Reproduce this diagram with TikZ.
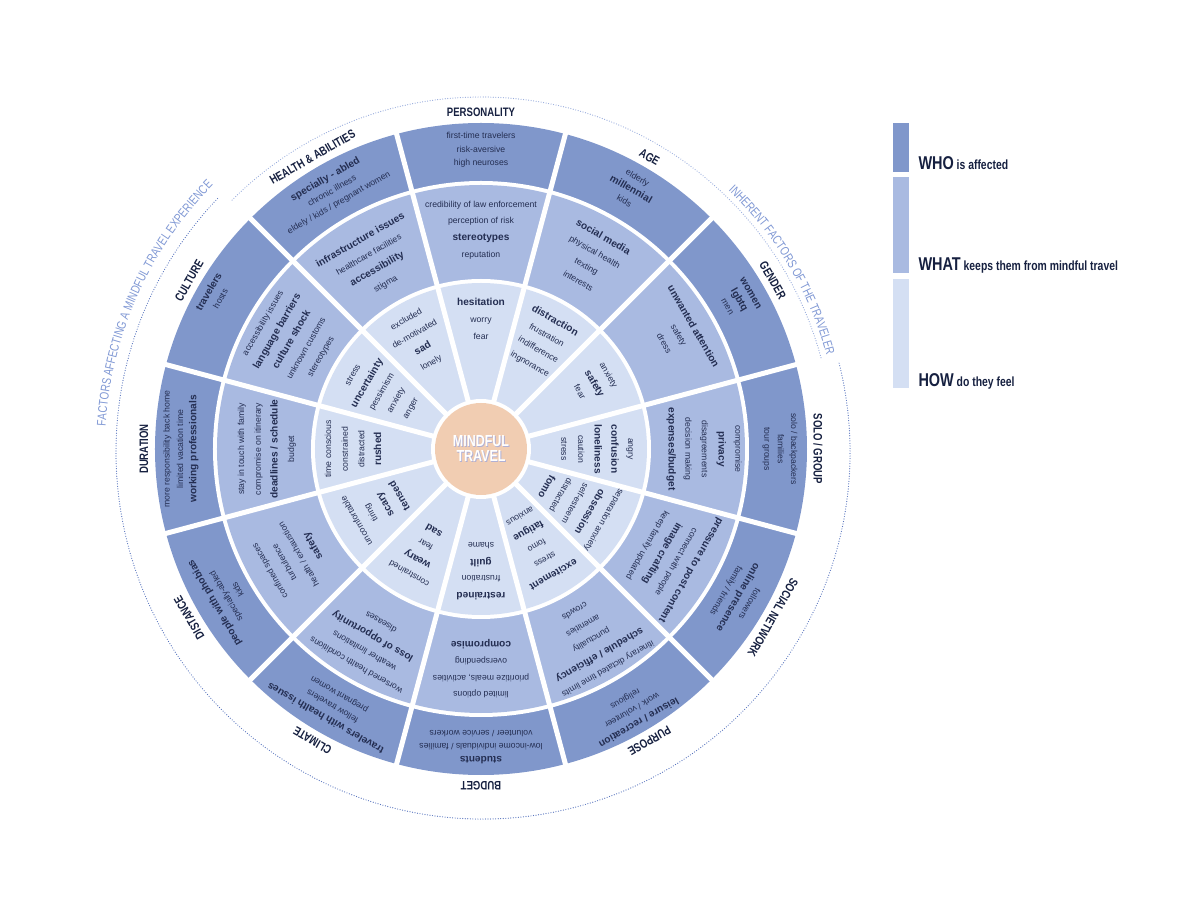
\documentclass[tikz,border=0pt]{standalone}
\usepackage{fontspec}
\setmainfont{Liberation Sans}
\newfontfamily\condfont[FakeStretch=0.78]{Liberation Sans}
\usetikzlibrary{decorations.text}

\definecolor{whocol}{RGB}{128,151,203}
\definecolor{whatcol}{RGB}{169,186,225}
\definecolor{howcol}{RGB}{212,223,243}
\definecolor{centrecol}{RGB}{241,205,178}
\definecolor{centreshade}{RGB}{176,176,212}
\definecolor{navytxt}{RGB}{36,46,82}
\definecolor{navylbl}{RGB}{22,32,64}
\definecolor{groupdot}{RGB}{150,170,220}
\definecolor{ringdot}{RGB}{88,116,190}
\definecolor{grouptxt}{RGB}{128,152,212}

\tikzset{every picture/.style={line width=0.75pt}}
\tikzset{
  seg/.style={text=navytxt, align=center, inner sep=0pt},
  whoseg/.style={seg, font=\fontsize{6.5}{10}\selectfont},
  whatseg/.style={seg, font=\fontsize{6.5}{12.5}\selectfont},
  howseg/.style={seg, font=\fontsize{6.5}{12.5}\selectfont},
  factorlabel/.style={text=navylbl, inner sep=0pt, font=\condfont\bfseries\fontsize{9.2}{11}\selectfont},
  gapline/.style={draw=white, line width=3.75pt},
  dotarc/.style={line width=0.9pt, line cap=round, dash pattern=on 0pt off 1.9pt},
  centre/.style={circle, fill=centrecol, minimum size=69pt, inner sep=0pt, align=center, text=white, font=\condfont\bfseries\fontsize{12}{11.25}\selectfont},
  legendtxt/.style={text=navylbl, inner sep=0pt, anchor=base west, font=\condfont\bfseries\fontsize{10}{12}\selectfont},
}
\newcommand{\keyterm}[1]{{\fontsize{7.6}{10}\selectfont\bfseries #1}}
\newcommand{\shadowed}[1]{\makebox[0pt][l]{\hspace{0.7pt}\raisebox{-0.7pt}{\color{centreshade}#1}}#1}

\begin{document}
\begin{tikzpicture}[x=0.75pt,y=0.75pt]
\useasboundingbox (-481,-450) rectangle (719,449);

%Shape: Circle [WHO ring]
\fill[whocol] (0,0) circle (326);
\fill[white] (0,0) circle (268);
%Shape: Circle [WHAT ring]
\fill[whatcol] (0,0) circle (264);
\fill[white] (0,0) circle (170);
%Shape: Circle [HOW ring]
\fill[howcol] (0,0) circle (166);
\fill[white] (0,0) circle (50);

%Straight Lines [segment gaps]
\draw[gapline] (15:48) -- (15:328);
\draw[gapline] (45:48) -- (45:328);
\draw[gapline] (75:48) -- (75:328);
\draw[gapline] (105:48) -- (105:328);
\draw[gapline] (135:48) -- (135:328);
\draw[gapline] (165:48) -- (165:328);
\draw[gapline] (195:48) -- (195:328);
\draw[gapline] (225:48) -- (225:328);
\draw[gapline] (255:48) -- (255:328);
\draw[gapline] (285:48) -- (285:328);
\draw[gapline] (315:48) -- (315:328);
\draw[gapline] (345:48) -- (345:328);

%Shape: Circle [centre]
\node[centre] (mindful) at (0,0) {\shadowed{MINDFUL}\\\shadowed{TRAVEL}};

% Text Node [WHO ring]
\node[whoseg, rotate=0] (who-personality) at (90:299) {first-time travelers\\risk-aversive\\high neuroses};
% Text Node
\node[whoseg, rotate=-30] (who-age) at (60:300) {elderly\\\keyterm{millennial}\\kids};
% Text Node
\node[whoseg, rotate=-60] (who-gender) at (30:298) {\keyterm{women}\\\keyterm{lgbtq}\\men};
% Text Node
\node[whoseg, rotate=-90] (who-solo) at (0:299) {solo / backpackers\\families\\tour groups};
% Text Node
\node[whoseg, rotate=-120] (who-social) at (-30:296) {followers\\\keyterm{online presence}\\family / friends};
% Text Node
\node[whoseg, rotate=-150] (who-purpose) at (-60:302) {\keyterm{leisure / recreation}\\work / volunteer\\religious};
% Text Node
\node[whoseg, rotate=-180] (who-budget) at (-90:298) {\keyterm{students}\\low-income individuals / families\\volunteer / service workers};
% Text Node
\node[whoseg, rotate=-210] (who-climate) at (-120:297) {\keyterm{travelers with health issues}\\fellow travelers\\pregnant women};
% Text Node
\node[whoseg, rotate=-240] (who-distance) at (-150:295) {\keyterm{people with phobias}\\specially-abled\\kids};
% Text Node
\node[whoseg, rotate=90] (who-duration) at (180:300) {more responsibility back home\\limited vacation time\\\keyterm{working professionals}};
% Text Node
\node[whoseg, rotate=60] (who-culture) at (150:308) {\keyterm{travelers}\\hosts};
% Text Node
\node[whoseg, rotate=30] (who-health) at (120:298) {\keyterm{specially - abled}\\chronic illness\\eldely / kids / pregnant women};

% Text Node [WHAT ring]
\node[whatseg, rotate=0] (what-stereo) at (90:219) {credibility of law enforcement\\perception of risk\\\keyterm{stereotypes}\\reputation};
% Text Node
\node[whatseg, rotate=-30] (what-media) at (60:220) {\keyterm{social media}\\physical health\\texting\\interests};
% Text Node
\node[whatseg, rotate=-60] (what-attention) at (30:229) {\keyterm{unwanted attention}\\safety\\dress};
% Text Node
\node[whatseg, rotate=-90] (what-expenses) at (0:223) {compromise\\\keyterm{privacy}\\disagreements\\decision making\\\keyterm{expenses/budget}};
% Text Node
\node[whatseg, rotate=-120] (what-pressure) at (-30:217) {\keyterm{pressure to post content}\\connect with people\\\keyterm{image crafting}\\keep family updated};
% Text Node
\node[whatseg, rotate=-150] (what-schedule) at (-60:221) {itinerary dictated time limits\\\keyterm{schedule / efficiency}\\punctuality\\amenities\\crowds};
% Text Node
\node[whatseg, rotate=-180] (what-compromise) at (-90:220) {limited options\\prioritize meals, activities\\overspending\\\keyterm{compromise}};
% Text Node
\node[whatseg, rotate=-210] (what-loss) at (-120:225) {worsened health conditions\\weather limitations\\\keyterm{loss of opportunity}\\diseases};
% Text Node
\node[whatseg, rotate=-240] (what-safety) at (-150:218) {confined spaces\\turbulence\\health / exhaustion\\\keyterm{safety}};
% Text Node
\node[whatseg, rotate=90] (what-deadlines) at (180:214) {stay in touch with family\\compromise on itinerary\\\keyterm{deadlines / schedule}\\budget};
% Text Node
\node[whatseg, rotate=60] (what-shock) at (150:218) {accessibility issues\\\keyterm{language barriers}\\\keyterm{culture shock}\\unknown customs\\stereotypes};
% Text Node
\node[whatseg, rotate=30] (what-access) at (120:216) {\keyterm{infrastructure issues}\\healthcare facilities\\\keyterm{accessibility}\\stigma};

% Text Node [HOW ring]
\node[howseg, rotate=0] (how-hesitation) at (90:130) {\keyterm{hesitation}\\worry\\fear};
% Text Node
\node[howseg, rotate=-30] (how-distraction) at (60:123) {\keyterm{distraction}\\frustration\\indifference\\ingnorance};
% Text Node
\node[howseg, rotate=-60] (how-safety) at (30:131) {anxiety\\\keyterm{safety}\\fear};
% Text Node
\node[howseg, rotate=-90] (how-confusion) at (0:116) {angry\\\keyterm{confusion}\\\keyterm{loneliness}\\caution\\stress};
% Text Node
\node[howseg, rotate=-120] (how-obsession) at (-30:109) {separation anxiety\\\keyterm{obsession}\\self-esteem\\distracted\\\keyterm{fomo}};
% Text Node
\node[howseg, rotate=-150] (how-excitement) at (-60:112) {\keyterm{excitement}\\stress\\fomo\\\keyterm{fatigue}\\anxious};
% Text Node
\node[howseg, rotate=-180] (how-restrained) at (-90:122) {\keyterm{restrained}\\frustration\\\keyterm{guilt}\\shame};
% Text Node
\node[howseg, rotate=-210] (how-weary) at (-120:119) {constrained\\\keyterm{weary}\\fear\\\keyterm{sad}};
% Text Node
\node[howseg, rotate=-240] (how-tensed) at (-150:119) {uncomfortable\\tiring\\\keyterm{scary}\\\keyterm{tensed}};
% Text Node
\node[howseg, rotate=90] (how-rushed) at (180:128) {time conscious\\constrained\\distracted\\\keyterm{rushed}};
% Text Node
\node[howseg, rotate=60] (how-uncertainty) at (150:114) {stress\\\keyterm{uncertainty}\\pessimism\\anxiety\\anger};
% Text Node
\node[howseg, rotate=30] (how-sad) at (120:124) {excluded\\de-motivated\\\keyterm{sad}\\lonely};

% Text Node [factor labels]
\node[factorlabel, rotate=0] (lbl-personality) at (90:337) {PERSONALITY};
\node[factorlabel, rotate=-30] (lbl-age) at (60:337) {AGE};
\node[factorlabel, rotate=-60] (lbl-gender) at (30:337) {GENDER};
\node[factorlabel, rotate=-90] (lbl-solo) at (0:337) {SOLO / GROUP};
\node[factorlabel, rotate=-120] (lbl-social) at (-30:337) {SOCIAL NETWORK};
\node[factorlabel, rotate=-150] (lbl-purpose) at (-60:337) {PURPOSE};
\node[factorlabel, rotate=-180] (lbl-budget) at (-90:337) {BUDGET};
\node[factorlabel, rotate=-210] (lbl-climate) at (-120:337) {CLIMATE};
\node[factorlabel, rotate=-240] (lbl-distance) at (-150:337) {DISTANCE};
\node[factorlabel, rotate=90] (lbl-duration) at (180:337) {DURATION};
\node[factorlabel, rotate=60] (lbl-culture) at (150:337) {CULTURE};
\node[factorlabel, rotate=30] (lbl-health) at (120:337) {HEALTH \& ABILITIES};

%Shape: Arc [dotted rings]
\draw[dotarc, draw=groupdot] (135:352) arc[start angle=135, end angle=15, radius=352];
\draw[dotarc, draw=ringdot, shift={(2,-3)}] (14:367) arc[start angle=14, end angle=-224, radius=367];

% Text Node [group headings along the rings]
\path[decorate, decoration={text along path, text align=center,
  text={|\condfont\fontsize{9.5}{11}\selectfont\color{grouptxt}|FACTORS AFFECTING A MINDFUL TRAVEL EXPERIENCE}}]
  (179:376) arc[start angle=179, end angle=133, radius=376];
\path[decorate, decoration={text along path, text align=center,
  text={|\condfont\fontsize{9.5}{11}\selectfont\color{grouptxt}|INHERENT FACTORS OF THE TRAVELER}}]
  (49:358) arc[start angle=49, end angle=12.5, radius=358];

%Shape: Rectangle [legend bars]
\fill[whocol] (412,326) rectangle (428,277);
\fill[whatcol] (412,272) rectangle (428,176);
\fill[howcol] (412,170) rectangle (428,61);

% Text Node [legend]
\node[legendtxt] (leg-who) at (437,279) {{\fontsize{13.9}{14}\selectfont WHO} is affected};
\node[legendtxt] (leg-what) at (437,178) {{\fontsize{13.9}{14}\selectfont WHAT} keeps them from mindful travel};
\node[legendtxt] (leg-how) at (437,62) {{\fontsize{13.9}{14}\selectfont HOW} do they feel};

\end{tikzpicture}
\end{document}
